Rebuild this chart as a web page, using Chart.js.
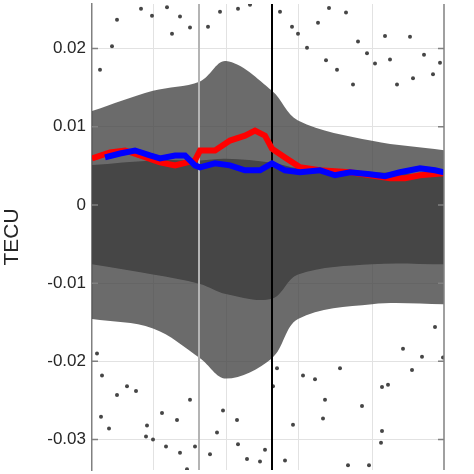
<!DOCTYPE html>
<html>
<head>
<meta charset="utf-8">
<script src="https://cdn.jsdelivr.net/npm/chart.js@4"></script>
<style>
html,body{margin:0;padding:0;background:#fff;}
#wrap{width:474px;height:474px;}
</style>
</head>
<body>
<div id="wrap"><canvas id="c" width="474" height="474"></canvas></div>
<script>
// x = sample index (no x labels shown), y = TECU
var envX = [92, 153, 200, 226, 272, 298, 372, 444];
var coreUpper = [0.0051, 0.0057, 0.0057, 0.0059, 0.0054, 0.0047, 0.0042, 0.0038];
var coreLower = [-0.0076, -0.0089, -0.0101, -0.0114, -0.0120, -0.0089, -0.0076, -0.0076];
var haloUpper = [0.0120, 0.0146, 0.0158, 0.0184, 0.0146, 0.0108, 0.0082, 0.0070];
var haloLower = [-0.0146, -0.0158, -0.0196, -0.0222, -0.0196, -0.0146, -0.0127, -0.0127];

var redX = [92,110,125,140,160,175,195,200,215,230,245,255,265,272,285,300,320,350,370,390,405,420,444];
var redY = [0.00595,0.00671,0.00696,0.00633,0.00544,0.00506,0.0057,0.00696,0.00696,0.00823,0.00886,0.0095,0.00886,0.0072,0.00608,0.00481,0.00443,0.00418,0.0038,0.00342,0.00342,0.0038,0.00405];
var blueX = [105,120,135,150,160,175,185,195,200,215,230,245,260,272,285,300,320,335,350,370,385,400,420,435,444];
var blueY = [0.00608,0.00658,0.00696,0.00633,0.00595,0.00633,0.00633,0.00506,0.00481,0.00532,0.00506,0.00443,0.00443,0.00532,0.00443,0.00418,0.00443,0.0038,0.00418,0.00392,0.00367,0.00418,0.00468,0.00443,0.00418];

var outX = [141,152,167,180,329,346,318,385,410,440,424,358,367,326,337,375,390,280,292,298,307,238,250,220,208,117,112,100,190,172,413,433,397,353,
  97,102,101,109,147,146,153,166,180,187,195,210,217,238,247,260,265,285,293,323,325,362,382,381,348,369,412,422,443,435,403,382,388,340,303,315,277,273,237,223,117,127,136,162,177,190];
var outY = [0.0251,0.0242,0.0253,0.0241,0.0252,0.0246,0.0233,0.0216,0.0215,0.0182,0.0192,0.0209,0.0194,0.0185,0.0173,0.0181,0.0186,0.0247,0.0228,0.0219,0.0201,0.0251,0.0256,0.0247,0.0228,0.0237,0.0203,0.0173,0.0227,0.0219,0.0162,0.0167,0.0154,0.0154,
  -0.0190,-0.0218,-0.0271,-0.0286,-0.0282,-0.0296,-0.0300,-0.0309,-0.0317,-0.0338,-0.0309,-0.0319,-0.0291,-0.0306,-0.0325,-0.0328,-0.0313,-0.0327,-0.0281,-0.0273,-0.0249,-0.0257,-0.0289,-0.0304,-0.0333,-0.0333,-0.0211,-0.0194,-0.0195,-0.0156,-0.0184,-0.0233,-0.0230,-0.0209,-0.0218,-0.0223,-0.0209,-0.0232,-0.0275,-0.0263,-0.0243,-0.0232,-0.0238,-0.0266,-0.0275,-0.0249];

var grayLineX = 199;
var blackLineX = 272;
var yMin = -0.0339, yMax = 0.0257;
var yTicks = [0.02, 0.01, 0, -0.01, -0.02, -0.03];
var xGrid = [153, 226, 298, 372];

function pts(xs, ys) { return xs.map(function (x, i) { return {x: x, y: ys[i]}; }); }
function band(xs, ys, color, fill, order) {
  return {data: pts(xs, ys), showLine: true, pointRadius: 0, borderWidth: 0, order: order,
    borderColor: color, backgroundColor: color, fill: fill, tension: 0.35};
}
function vline(x, color, w) {
  return {data: [{x: x, y: yMin}, {x: x, y: yMax}], showLine: true, pointRadius: 0,
    borderColor: color, borderWidth: w, order: 3};
}

new Chart(document.getElementById('c'), {
  type: 'scatter',
  data: {datasets: [
    band(envX, haloUpper, 'rgba(70,70,70,0.8)', '+1', 9),
    band(envX, haloLower, 'rgba(70,70,70,0.8)', false, 9),
    band(envX, coreUpper, '#464646', '+1', 8),
    band(envX, coreLower, '#464646', false, 8),
    {data: pts(outX, outY), pointRadius: 2, pointBackgroundColor: '#464646', pointBorderWidth: 0, order: 7},
    vline(grayLineX, '#b4b4b4', 2),
    vline(blackLineX, '#000000', 2),
    {data: pts(redX, redY), showLine: true, pointRadius: 0, borderColor: '#ff0000', borderWidth: 6, tension: 0, order: 2},
    {data: pts(blueX, blueY), showLine: true, pointRadius: 0, borderColor: '#0000ff', borderWidth: 6, tension: 0, order: 1}
  ]},
  options: {
    responsive: false, animation: false,
    layout: {padding: {top: 0, right: 30, bottom: 0, left: 0}},
    plugins: {legend: {display: false}, tooltip: {enabled: false}},
    scales: {
      x: {type: 'linear', min: 92, max: 444,
        afterBuildTicks: function (s) { s.ticks = xGrid.map(function (v) { return {value: v}; }); },
        ticks: {display: false},
        grid: {color: '#e2e2e2', drawTicks: false},
        border: {display: false},
        afterFit: function (s) { s.height = 0; s.paddingLeft = 0; s.paddingRight = 0; }
      },
      y: {min: yMin, max: yMax,
        afterBuildTicks: function (s) { s.ticks = yTicks.map(function (v) { return {value: v}; }); },
        ticks: {color: '#262626', font: {family: 'Liberation Sans', size: 17}, padding: 6,
          callback: function (v) { return v === 0 ? '0' : String(+v.toFixed(2)); }},
        grid: {color: '#e2e2e2', drawTicks: false},
        border: {display: true, color: '#808080', width: 1.5},
        title: {display: true, text: 'TECU', color: '#262626', font: {family: 'Liberation Sans', size: 21}, padding: 0},
        afterFit: function (s) { s.width = 92; s.paddingTop = 0; s.paddingBottom = 0; }
      }
    }
  },
  plugins: [{
    id: 'rightBorder',
    afterDraw: function (ch) {
      var a = ch.chartArea, c = ch.ctx, ys = ch.scales.y;
      c.save(); c.strokeStyle = '#808080'; c.lineWidth = 1.5;
      c.beginPath(); c.moveTo(a.right, a.top); c.lineTo(a.right, a.bottom); c.stroke();
      yTicks.forEach(function (v) {
        var p = ys.getPixelForValue(v);
        c.beginPath(); c.moveTo(a.left, p); c.lineTo(a.left + 6, p);
        c.moveTo(a.right, p); c.lineTo(a.right - 6, p); c.stroke();
      });
      c.restore();
    }
  }]
});
</script>
</body>
</html>
